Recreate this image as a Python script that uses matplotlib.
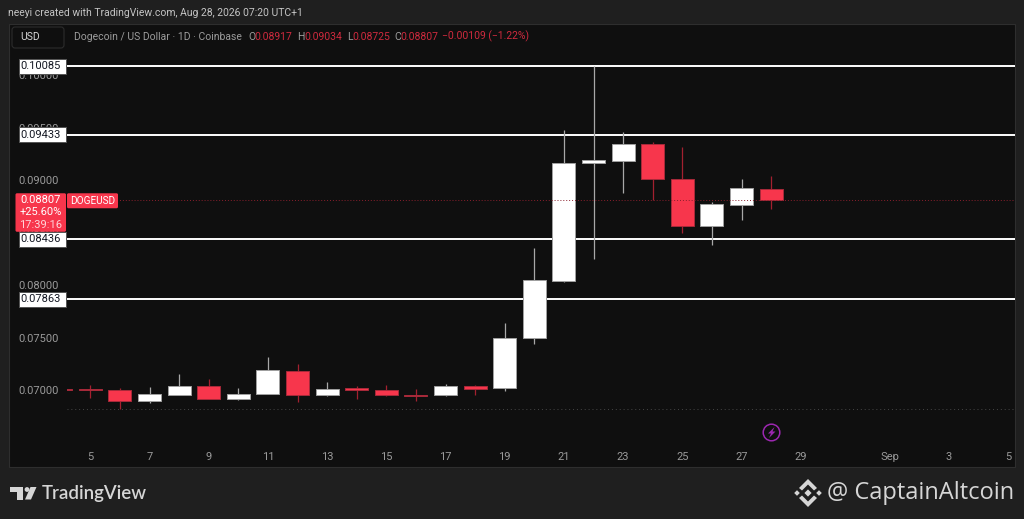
import matplotlib
matplotlib.use("Agg")
import matplotlib.pyplot as plt
from matplotlib.patches import Rectangle, FancyBboxPatch, Polygon, Circle

plt.rcParams['font.family'] = ['Roboto', 'DejaVu Sans']

# daily candles, August (day 4 is cut off by the price scale)
days = [4, 5, 6, 7, 8, 9, 10, 11, 12, 13, 14, 15, 16, 17, 18, 19, 20, 21, 22, 23, 24, 25, 26, 27, 28]
opens = [0.07014, 0.07006, 0.07000, 0.06898, 0.06955, 0.07041, 0.06917, 0.06959, 0.07181, 0.06955, 0.07016, 0.07000,
         0.06952, 0.06950, 0.07035, 0.07019, 0.07495, 0.08038, 0.09159, 0.09184, 0.09343, 0.09010, 0.08565, 0.08765, 0.08917]
highs = [0.07014, 0.07048, 0.07016, 0.07029, 0.07152, 0.07102, 0.07019, 0.07311, 0.07245, 0.07076, 0.07035, 0.07050,
         0.07010, 0.07057, 0.07050, 0.07638, 0.08352, 0.09479, 0.10090, 0.09454, 0.09362, 0.09311, 0.08788, 0.09007, 0.09034]
lows = [0.07000, 0.06927, 0.06816, 0.06879, 0.06955, 0.06917, 0.06905, 0.06959, 0.06889, 0.06946, 0.06914, 0.06946,
        0.06895, 0.06943, 0.06955, 0.06990, 0.07438, 0.08029, 0.08248, 0.08876, 0.08810, 0.08492, 0.08384, 0.08622, 0.08725]
closes = [0.07000, 0.07003, 0.06898, 0.06959, 0.07041, 0.06917, 0.06965, 0.07188, 0.06955, 0.07012, 0.06997, 0.06950,
          0.06947, 0.07035, 0.07012, 0.07495, 0.08048, 0.09159, 0.09190, 0.09343, 0.09007, 0.08565, 0.08771, 0.08921, 0.08807]

levels = [0.10085, 0.09433, 0.08436, 0.07863]
last_price = 0.08807
period_low = 0.06816

y_ticks = [0.07, 0.075, 0.08, 0.085, 0.09, 0.095, 0.10]
x_ticks = [5, 7, 9, 11, 13, 15, 17, 19, 21, 23, 25, 27, 29, 32, 34, 36]
x_labels = ['5', '7', '9', '11', '13', '15', '17', '19', '21', '23', '25', '27', '29', 'Sep', '3', '5']

RED = '#f7364c'
OUTER = '#1f1f1f'
PANE = '#0f0f0f'
GREY = '#9a9a9a'
W, H = 1024, 519


def price_to_px(p):
    return 180 + (0.09 - p) * 10500


def px_to_price(y):
    return 0.09 + (180 - y) / 10500


def px_to_day(x):
    return 5 + (x - 90.3) / 29.6


fig = plt.figure(figsize=(W / 100, H / 100), dpi=100, facecolor=OUTER)

# pane behind everything
bg = fig.add_axes([0, 0, 1, 1], zorder=0)
bg.set_xlim(0, W)
bg.set_ylim(H, 0)
bg.axis('off')
bg.add_patch(Rectangle((8.5, 23.5), 1006.5, 443, fc=PANE, ec='#2e2e2e', lw=0.8))

# price chart
left, right, top, bottom = 67, 1015, 24, 467
ax = fig.add_axes([left / W, (H - bottom) / H, (right - left) / W, (bottom - top) / H], zorder=1)
ax.patch.set_alpha(0)
ax.set_xlim(px_to_day(left), px_to_day(right))
ax.set_ylim(px_to_price(bottom), px_to_price(top))
for s in ax.spines.values():
    s.set_visible(False)

ax.set_yticks(y_ticks)
ax.set_yticklabels(['%.5f' % v for v in y_ticks])
ax.set_xticks(x_ticks)
ax.set_xticklabels(x_labels)
ax.tick_params(axis='y', length=0, pad=5.8, labelsize=8, labelcolor=GREY)
ax.tick_params(axis='x', length=0, pad=-11, labelsize=8, labelcolor=GREY)

for lv in levels:
    ax.axhline(lv, color='white', lw=1.4, zorder=2)
ax.axhline(period_low, color='#474747', lw=0.7, ls=(0, (1, 3)), zorder=2)

for d, o, h, l, c in zip(days, opens, highs, lows, closes):
    up = c >= o
    wick = '#a8a8a8' if up else '#a3202f'
    ax.vlines(d, l, h, color=wick, lw=0.9, zorder=3)
    ax.bar(d, abs(c - o), bottom=min(o, c), width=0.78, color='white' if up else RED,
           edgecolor='#a0a0a0' if up else '#a82a3a', lw=0.7, zorder=4)

ax.axhline(last_price, color='#8a1f2c', lw=0.7, ls=(0, (1, 2)), zorder=5)

# labels, header and logos on top
fg = fig.add_axes([0, 0, 1, 1], zorder=2)
fg.set_xlim(0, W)
fg.set_ylim(H, 0)
fg.axis('off')
fg.patch.set_alpha(0)

for lv in levels:
    y = price_to_px(lv)
    fg.add_patch(Rectangle((18.5, y - 7.5), 47.5, 15, fc='white', ec='#555555', lw=0.7))
    fg.text(40.6, y, '%.5f' % lv, color='#131722', fontsize=8, ha='center', va='center')

y = price_to_px(last_price)
fg.add_patch(FancyBboxPatch((15.5, y - 7), 50.5, 38.5, boxstyle='round,pad=0,rounding_size=1.5', fc=RED, ec='none'))
fg.text(41, y, '%.5f' % last_price, color='white', fontsize=8, ha='center', va='center')
fg.text(41, y + 12, '+25.60%', color='white', fontsize=8, ha='center', va='center')
fg.text(41, y + 24.5, '17:39:16', color='#ffd5da', fontsize=8, ha='center', va='center')
fg.add_patch(FancyBboxPatch((67, y - 7), 51, 15, boxstyle='round,pad=0,rounding_size=1.5', fc=RED, ec='none'))
fg.text(92.5, y + 0.3, 'DOGEUSD', color='white', fontsize=7.2, ha='center', va='center')

fg.text(8, 13, 'neeyi created with TradingView.com, Aug 28, 2026 07:20 UTC+1', color='#c4c4c4',
        fontsize=7.5, ha='left', va='center')

fg.add_patch(FancyBboxPatch((12, 27), 52, 21, boxstyle='round,pad=0,rounding_size=3', fc=PANE, ec='#2c2c2c', lw=0.8))
fg.text(20, 37.5, 'USD', color='#d6d6d6', fontsize=7.5, ha='left', va='center')

fg.text(74, 36.5, 'Dogecoin / US Dollar · 1D · Coinbase', color='#9c9c9c', fontsize=7.5, ha='left', va='center')
legend_bits = [(248, 'O', '#9c9c9c'), (254.6, '0.08917', '#cf2a3e'), (297, 'H', '#9c9c9c'), (304, '0.09034', '#cf2a3e'),
               (346.8, 'L', '#9c9c9c'), (352, '0.08725', '#cf2a3e'), (394, 'C', '#9c9c9c'), (400, '0.08807', '#cf2a3e'),
               (442, '−0.00109 (−1.22%)', '#cf2a3e')]
for x, s, col in legend_bits:
    fg.text(x, 36.5, s, color=col, fontsize=7.5, ha='left', va='center')

# lightning mark
fg.add_patch(Circle((771.5, 432.5), 8.3, fc='none', ec='#9c27b0', lw=1.1))
fg.add_patch(Polygon([(774.5, 427), (768, 433.5), (771, 433.5), (769, 438), (775.5, 431.5), (772.5, 431.5)],
                     fc='#9c27b0', ec='none'))

# TradingView logo
logo = '#d6d6d6'
fg.add_patch(Polygon([(10, 487), (23, 487), (23, 499.5), (16.5, 499.5), (16.5, 492), (10, 492)], fc=logo, ec='none'))
fg.add_patch(Circle((27, 489.5), 2.4, fc=logo, ec='none'))
fg.add_patch(Polygon([(30.5, 487), (36.5, 487), (31, 499.5), (25, 499.5)], fc=logo, ec='none'))
fg.text(42, 493, 'TradingView', color=logo, fontsize=13.4, family='Lato', weight='semibold', ha='left', va='center')

# watermark
cx, cy = 808, 493
for dx, dy, r in [(-11, 0, 2.8), (11, 0, 2.8), (0, 0, 3.6)]:
    fg.add_patch(Polygon([(cx + dx - r, cy + dy), (cx + dx, cy + dy - r), (cx + dx + r, cy + dy), (cx + dx, cy + dy + r)],
                         fc=logo, ec='none'))
fg.add_patch(Polygon([(cx, cy - 14), (cx + 9, cy - 5), (cx + 6, cy - 2.5), (cx, cy - 8.5), (cx - 6, cy - 2.5), (cx - 9, cy - 5)],
                     fc=logo, ec='none'))
fg.add_patch(Polygon([(cx, cy + 14), (cx + 9, cy + 5), (cx + 6, cy + 2.5), (cx, cy + 8.5), (cx - 6, cy + 2.5), (cx - 9, cy + 5)],
                     fc=logo, ec='none'))
fg.text(827, 493, '@ CaptainAltcoin', color=logo, fontsize=17, family='Open Sans', ha='left', va='center')

fig.savefig('out.png', dpi=100, facecolor=OUTER)
